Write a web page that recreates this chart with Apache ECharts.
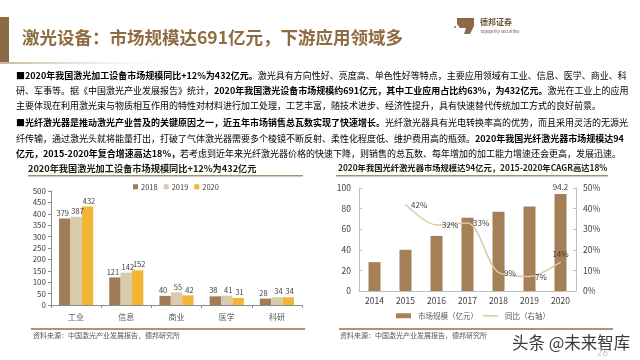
<!DOCTYPE html>
<html><head><meta charset="utf-8">
<script src="https://cdn.jsdelivr.net/npm/echarts@6/dist/echarts.min.js"></script>
<style>html,body{margin:0;padding:0;background:#fff}#c{width:640px;height:360px}</style>
</head><body><div id="c"></div>
<script>
// Left chart data
var leftCategories = ['工业', '信息', '商业', '医学', '科研'];
var leftSeriesNames = ['2018', '2019', '2020'];
var values2018 = [379, 121, 40, 38, 28];
var values2019 = [387, 142, 55, 41, 34];
var values2020 = [432, 152, 42, 31, 34];
var leftTicks = [0, 50, 100, 150, 200, 250, 300, 350, 400, 450, 500];

// Right chart data
var rightYears = ['2014', '2015', '2016', '2017', '2018', '2019', '2020'];
var marketSize = [28, 40, 53.5, 71, 77, 82, 94.2];
var yoyGrowth = [null, 0.42, 0.32, 0.33, 0.09, 0.07, 0.14];
var rightLeftTicks = [0, 20, 40, 60, 80, 100];
var rightRightTicks = ['0%', '10%', '20%', '30%', '40%', '50%'];

var FONT = '"Noto Sans CJK SC", "Noto Sans", sans-serif';
var chart = echarts.init(document.getElementById('c'), null, {renderer: 'canvas'});

var textRich = {
  g: {fontFamily: FONT, fontSize: 9, color: '#c39757', fontWeight: 'bold'},
  n: {fontFamily: FONT, fontSize: 9, color: '#3a3a3a'},
  b: {fontFamily: FONT, fontSize: 9, color: '#111', fontWeight: 'bold'}
};
function para(y, txt) {
  return {type: 'text', left: 16, top: y - 4, style: {text: txt, rich: textRich, font: '9px ' + FONT}};
}

var option = {
  animation: false,
  textStyle: {fontFamily: FONT},
  graphic: [
    {type: 'rect', shape: {x: 0, y: 17, width: 9, height: 45}, style: {fill: '#8c6a45'}},
    {type: 'text', left: 22, top: 29, style: {text: '激光设备：市场规模达691亿元，下游应用领域多', fontFamily: FONT, fontSize: 17.5, fontWeight: 'bold', fill: '#8f6b42'}},
    {type: 'rect', shape: {x: 0, y: 62, width: 160, height: 2}, style: {fill: new echarts.graphic.LinearGradient(0, 0, 1, 0, [{offset: 0, color: '#c9b89e'}, {offset: 1, color: 'rgba(230,220,205,0)'}])}},
    // logo
    {type: 'polygon', shape: {points: [[457, 18], [474, 18], [474, 26], [470, 34], [464, 34], [466, 28], [460, 28], [457, 24]]}, style: {fill: '#8c6a45'}},
    {type: 'circle', shape: {cx: 455, cy: 27, r: 1}, style: {fill: '#8c6a45'}},
    {type: 'text', left: 480, top: 18, style: {text: '德邦证券', fontFamily: FONT, fontSize: 8, fontWeight: 'bold', fill: '#6e5235'}},
    {type: 'text', left: 480, top: 29, style: {text: 'Topsperity Securities', fontFamily: FONT, fontSize: 4, fill: '#6e5235'}},
    // paragraphs
    para(75, '{g|■2020年我国激光加工设备市场规模同比+12%为432亿元。}{n|激光具有方向性好、亮度高、单色性好等特点，主要应用领域有工业、信息、医学、商业、科}'),
    para(90, '{n|研、军事等。据《中国激光产业发展报告》统计，}{b|2020年我国激光设备市场规模约691亿元，其中工业应用占比约63%，为432亿元。}{n|激光在工业上的应用}'),
    para(105, '{n|主要体现在利用激光束与物质相互作用的特性对材料进行加工处理，工艺丰富，随技术进步、经济性提升，具有快速替代传统加工方式的良好前景。}'),
    para(122, '{g|■光纤激光器是推动激光产业普及的关键原因之一，近五年市场销售总瓦数实现了快速增长。}{n|光纤激光器具有光电转换率高的优势，而且采用灵活的无源光}'),
    para(138, '{n|纤传输，通过激光头就将能量打出，打破了气体激光器需要多个棱镜不断反射、柔性化程度低、维护费用高的瓶颈。}{b|2020年我国光纤激光器市场规模达94}'),
    para(153, '{b|亿元，2015-2020年复合增速高达18%，}{n|若考虑到近年来光纤激光器价格的快速下降，则销售的总瓦数、每年增加的加工能力增速还会更高，发展迅速。}'),
    // chart titles
    {type: 'text', left: 28, top: 164, style: {text: '2020年我国激光加工设备市场规模同比+12%为432亿元', fontFamily: FONT, fontSize: 9.2, fontWeight: 'bold', fill: '#1a1a1a'}},
    {type: 'rect', shape: {x: 28, y: 175, width: 275, height: 1.5}, style: {fill: '#a8906f'}},
    {type: 'text', left: 338, top: 164, style: {text: '2020年我国光纤激光器市场规模达94亿元，2015-2020年CAGR高达18%', fontFamily: FONT, fontSize: 8.3, fontWeight: 'bold', fill: '#1a1a1a'}},
    {type: 'rect', shape: {x: 336, y: 175, width: 272, height: 1.5}, style: {fill: '#a8906f'}},
    // bottom separators & sources
    {type: 'rect', shape: {x: 31, y: 328, width: 274, height: 2}, style: {fill: '#ab9477'}},
    {type: 'rect', shape: {x: 339, y: 328, width: 274, height: 2}, style: {fill: '#ab9477'}},
    {type: 'text', left: 33, top: 332, style: {text: '资料来源：中国激光产业发展报告，德邦研究所', fontFamily: FONT, fontSize: 7, fill: '#555'}},
    {type: 'text', left: 340, top: 332, style: {text: '资料来源：中国激光产业发展报告，德邦研究所', fontFamily: FONT, fontSize: 7, fill: '#555'}},
    {type: 'text', left: 511, top: 333, style: {text: '头条 @未来智库', fontFamily: FONT, fontSize: 16.5, fill: '#3a3a3a', stroke: '#fff', lineWidth: 2}},
    {type: 'text', left: 597, top: 347, style: {text: '28', fontFamily: FONT, fontSize: 10, fill: '#c8c8c8'}}
  ],
  legend: [
    {data: leftSeriesNames, left: 133, top: 183, padding: 0, itemWidth: 5, itemHeight: 5, itemGap: 6, icon: 'rect',
     textStyle: {fontSize: 7.5, color: '#404040', padding: [0, 0, 0, -2]}},
    {data: ['市场规模（亿元）'], left: 396, top: 312, padding: 0, itemWidth: 15, itemHeight: 5, icon: 'rect',
     textStyle: {fontSize: 7.5, color: '#595959', padding: [0, 0, 0, 2]}},
    {data: ['同比（右轴）'], left: 483, top: 312, padding: 0, itemWidth: 15, itemHeight: 1.5, icon: 'rect',
     textStyle: {fontSize: 7.5, color: '#595959', padding: [0, 0, 0, 2]}}
  ],
  grid: [
    {left: 51, top: 191, width: 251, height: 114},
    {left: 359, top: 188, width: 217, height: 103}
  ],
  xAxis: [
    {type: 'category', gridIndex: 0, data: leftCategories,
     axisLine: {lineStyle: {color: '#8c8c8c'}}, axisTick: {show: true, length: 3, lineStyle: {color: '#8c8c8c'}},
     axisLabel: {fontSize: 8, color: '#595959', margin: 8}},
    {type: 'category', gridIndex: 1, data: rightYears,
     axisLine: {lineStyle: {color: '#bfbfbf'}}, axisTick: {show: false},
     axisLabel: {fontSize: 8.5, color: '#404040', margin: 6}}
  ],
  yAxis: [
    {type: 'value', gridIndex: 0, min: 0, max: 500, interval: 50,
     axisLine: {show: true, lineStyle: {color: '#8c8c8c'}}, axisTick: {show: true, length: 3, lineStyle: {color: '#8c8c8c'}},
     splitLine: {show: false}, axisLabel: {fontSize: 8, color: '#404040', margin: 5}},
    {type: 'value', gridIndex: 1, min: 0, max: 100, interval: 20,
     axisLine: {show: true, lineStyle: {color: '#bfbfbf'}}, axisTick: {show: true, inside: true, length: 3, lineStyle: {color: '#bfbfbf'}},
     splitLine: {show: false}, axisLabel: {fontSize: 8.5, color: '#404040', margin: 8}},
    {type: 'value', gridIndex: 1, min: 0, max: 0.5, interval: 0.1, position: 'right',
     axisLine: {show: true, lineStyle: {color: '#bfbfbf'}}, axisTick: {show: true, inside: true, length: 3, lineStyle: {color: '#bfbfbf'}},
     splitLine: {show: false},
     axisLabel: {fontSize: 8.5, color: '#404040', margin: 7, formatter: function (v) { return Math.round(v * 100) + '%'; }}}
  ],
  series: [
    {name: '2018', type: 'bar', xAxisIndex: 0, yAxisIndex: 0, data: values2018, barGap: '0%', barCategoryGap: '32%',
     itemStyle: {color: '#a07d57'}, label: {show: true, position: 'top', fontSize: 7.5, color: '#404040', distance: 2, offset: [-2, 0]}},
    {name: '2019', type: 'bar', xAxisIndex: 0, yAxisIndex: 0, data: values2019, barGap: '0%', barCategoryGap: '32%',
     itemStyle: {color: '#d9cbac'}, label: {show: true, position: 'top', fontSize: 7.5, color: '#404040', distance: 2, offset: [1.5, 0]}},
    {name: '2020', type: 'bar', xAxisIndex: 0, yAxisIndex: 0, data: values2020, barGap: '0%', barCategoryGap: '32%',
     itemStyle: {color: '#f2b535'}, label: {show: true, position: 'top', fontSize: 7.5, color: '#404040', distance: 2, offset: [1.5, 0]}},
    {name: '市场规模（亿元）', type: 'bar', xAxisIndex: 1, yAxisIndex: 1, barWidth: 12,
     data: marketSize.map(function (v, i) {
       return i === marketSize.length - 1 ? {value: v, label: {show: true, position: 'top', fontSize: 8, color: '#404040', distance: 3}} : v;
     }),
     itemStyle: {color: '#a57f56'}},
    {name: '同比（右轴）', type: 'line', xAxisIndex: 1, yAxisIndex: 2, smooth: 0.3,
     symbol: 'circle', symbolSize: 1, showSymbol: true,
     lineStyle: {color: '#d9c9a5', width: 1.5}, itemStyle: {color: '#d9c9a5'},
     label: {show: true, position: 'right', fontSize: 8, color: '#404040', distance: 5,
       formatter: function (p) { return Math.round(p.value * 100) + '%'; }},
     data: yoyGrowth.map(function (v, i) {
       return i === yoyGrowth.length - 1 ? {value: v, label: {position: 'top', distance: 4}} : v;
     })}
  ]
};
chart.setOption(option);
</script></body></html>
